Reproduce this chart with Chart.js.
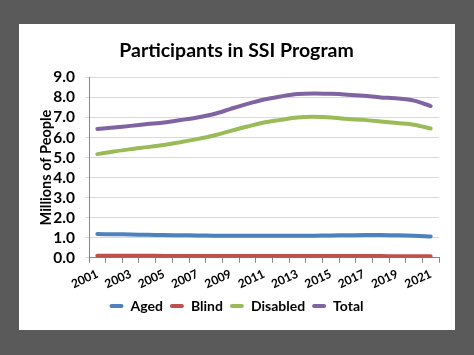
<!DOCTYPE html>
<html>
<head>
<meta charset="utf-8">
<script src="https://cdn.jsdelivr.net/npm/chart.js@4.4.1/dist/chart.umd.min.js"></script>
<style>
  html, body { margin: 0; padding: 0; background: #5a5a5a; width: 474px; height: 355px; overflow: hidden; }
  #wrap { position: absolute; left: 19px; top: 24px; width: 436px; height: 306px; background: #ffffff; }
</style>
</head>
<body>
<div id="wrap"><canvas id="c" width="436" height="306"></canvas></div>
<script>
const years = ['2001','2002','2003','2004','2005','2006','2007','2008','2009','2010','2011','2012','2013','2014','2015','2016','2017','2018','2019','2020','2021'];
const aged     = [1.18,1.17,1.16,1.14,1.13,1.12,1.11,1.10,1.10,1.10,1.10,1.10,1.10,1.10,1.11,1.12,1.13,1.13,1.12,1.10,1.06];
const blind    = [0.10,0.10,0.10,0.10,0.09,0.09,0.08,0.08,0.08,0.08,0.08,0.08,0.08,0.08,0.08,0.08,0.08,0.08,0.07,0.07,0.07];
const disabled = [5.17,5.30,5.42,5.52,5.63,5.77,5.92,6.10,6.33,6.55,6.75,6.88,7.00,7.03,7.00,6.92,6.88,6.80,6.72,6.64,6.45];
const total    = [6.43,6.50,6.58,6.67,6.75,6.87,7.00,7.17,7.43,7.68,7.90,8.05,8.17,8.20,8.18,8.14,8.08,8.00,7.95,7.84,7.57];
const yTicks   = [0,1,2,3,4,5,6,7,8,9];

const FONT = 'Lato, "Noto Sans", sans-serif';
function ds(label, data, color) {
  return { label, data, borderColor: color, backgroundColor: color, borderWidth: 4,
           pointRadius: 0, tension: 0.3, borderCapStyle: 'round', borderJoinStyle: 'round' };
}

new Chart(document.getElementById('c'), {
  type: 'line',
  data: {
    labels: years,
    datasets: [
      ds('Aged', aged, '#4f81bd'),
      ds('Blind', blind, '#c0504d'),
      ds('Disabled', disabled, '#9bbb59'),
      ds('Total', total, '#8064a2')
    ]
  },
  options: {
    responsive: false,
    animation: false,
    layout: { padding: { left: 15, right: 16, top: 0, bottom: 7 } },
    plugins: {
      title: {
        display: true, text: 'Participants in SSI Program', color: '#000',
        font: { family: FONT, size: 19.5, weight: 'bold' },
        padding: { top: 15, bottom: 15 }
      },
      legend: {
        position: 'bottom',
        labels: {
          color: '#000', font: { family: FONT, size: 14, weight: 'bold' },
          boxWidth: 14, boxHeight: 4, padding: 7,
          useBorderRadius: true, borderRadius: 2,
          generateLabels(chart) {
            const items = Chart.defaults.plugins.legend.labels.generateLabels(chart);
            items.forEach(it => { it.lineWidth = 0; it.strokeStyle = 'rgba(0,0,0,0)'; });
            return items;
          }
        }
      },
      tooltip: { enabled: false }
    },
    scales: {
      x: {
        offset: true,
        grid: { offset: true, drawOnChartArea: false, tickLength: 5, color: '#868686' },
        border: { color: '#868686' },
        ticks: {
          autoSkip: false, maxRotation: 25, minRotation: 25, padding: 4,
          color: '#000', font: { family: FONT, size: 12, weight: 'bold' },
          callback(v, i) { return i % 2 === 0 ? years[i] : ''; }
        },
        afterFit(s) { s.height = 34.3; }
      },
      y: {
        min: 0, max: 9,
        afterBuildTicks(s) { s.ticks = yTicks.map(v => ({ value: v })); },
        grid: { color: '#d9d9d9', tickLength: 4 },
        border: { color: '#868686' },
        ticks: {
          autoSkip: false, padding: 10, color: '#000', font: { family: FONT, size: 15.5, weight: 'bold' },
          callback(v) { return Number(v).toFixed(1); }
        },
        title: {
          display: true, text: 'Millions of People', color: '#000',
          font: { family: FONT, size: 14.5, weight: 'bold' },
          padding: { top: 4, bottom: 0 }
        },
        afterFit(s) { s.width = 55; }
      }
    }
  }
});
</script>
</body>
</html>
